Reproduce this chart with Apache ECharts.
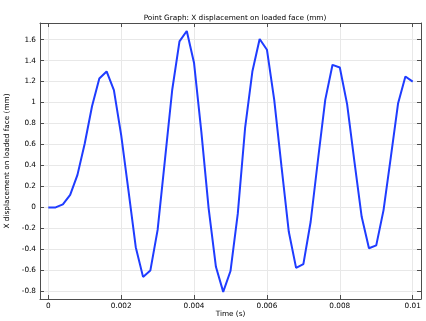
<!DOCTYPE html>
<html>
<head>
<meta charset="utf-8">
<script src="https://cdn.jsdelivr.net/npm/echarts@6/dist/echarts.min.js"></script>
<style>html,body{margin:0;padding:0;background:#fff}#c{width:426px;height:321px}</style>
</head>
<body>
<div id="c"></div>
<script>
var titleText = 'Point Graph: X displacement on loaded face (mm)';
var xName = 'Time (s)';
var yName = 'X displacement on loaded face (mm)';
var time = [0, 0.0002, 0.0004, 0.0006, 0.0008, 0.001, 0.0012, 0.0014, 0.0016, 0.0018,
  0.002, 0.0022, 0.0024, 0.0026, 0.0028, 0.003, 0.0032, 0.0034, 0.0036, 0.0038,
  0.004, 0.0042, 0.0044, 0.0046, 0.0048, 0.005, 0.0052, 0.0054, 0.0056, 0.0058,
  0.006, 0.0062, 0.0064, 0.0066, 0.0068, 0.007, 0.0072, 0.0074, 0.0076, 0.0078,
  0.008, 0.0082, 0.0084, 0.0086, 0.0088, 0.009, 0.0092, 0.0094, 0.0096, 0.0098, 0.01];
var displacement = [0, 0, 0.029, 0.12, 0.31, 0.61, 0.965, 1.23, 1.297, 1.118,
  0.69, 0.16, -0.38, -0.663, -0.603, -0.215, 0.45, 1.12, 1.584, 1.683,
  1.377, 0.72, -0.01, -0.567, -0.806, -0.607, -0.06, 0.755, 1.296, 1.606,
  1.504, 1.026, 0.388, -0.233, -0.577, -0.542, -0.137, 0.452, 1.026, 1.36,
  1.335, 0.985, 0.44, -0.09, -0.39, -0.362, -0.026, 0.48, 0.994, 1.249, 1.2];
var xTicks = [0, 0.002, 0.004, 0.006, 0.008, 0.01];
var yTicks = [-0.8, -0.6, -0.4, -0.2, 0, 0.2, 0.4, 0.6, 0.8, 1, 1.2, 1.4, 1.6];
var xRange = [-0.000228, 0.010228];
var yRange = [-0.874, 1.759];

var font = 'DejaVu Sans';
var axisColor = '#4d4d4d';
function mkX(pos, show) {
  return {
    type: 'value', position: pos, min: xRange[0], max: xRange[1],
    name: show ? xName : '', nameLocation: 'middle', nameGap: 12, nameMoveOverlap: false,
    nameTextStyle: {fontFamily: font, fontSize: 7.3, color: '#000'},
    axisLine: {show: true, onZero: false, lineStyle: {color: axisColor, width: 1}},
    axisTick: {show: true, inside: true, length: 4, customValues: xTicks, lineStyle: {color: axisColor}},
    axisLabel: {show: show, customValues: xTicks, margin: 4, fontFamily: font, fontSize: 7.3, color: '#000'},
    splitLine: {show: show, lineStyle: {color: '#e8e8e8', width: 1}}
  };
}
function mkY(pos, show) {
  return {
    type: 'value', position: pos, min: yRange[0], max: yRange[1],
    name: show ? yName : '', nameLocation: 'middle', nameGap: 29, nameMoveOverlap: false,
    nameTextStyle: {fontFamily: font, fontSize: 7.3, color: '#000'},
    axisLine: {show: true, onZero: false, lineStyle: {color: axisColor, width: 1}},
    axisTick: {show: true, inside: true, length: 4, customValues: yTicks, lineStyle: {color: axisColor}},
    axisLabel: {show: show, customValues: yTicks, margin: 4, fontFamily: font, fontSize: 7.3, color: '#000'},
    splitLine: {show: show, lineStyle: {color: '#e8e8e8', width: 1}}
  };
}
var chart = echarts.init(document.getElementById('c'), null, {renderer: 'canvas'});
chart.setOption({
  animation: false,
  backgroundColor: '#fff',
  title: {text: titleText, left: 230, textAlign: 'center', top: 10,
    textStyle: {fontFamily: font, fontSize: 7.3, fontWeight: 'normal', color: '#000'}},
  grid: {left: 40, right: 5, top: 23, bottom: 22, containLabel: false, outerBoundsMode: 'none'},
  xAxis: [mkX('bottom', true), mkX('top', false)],
  yAxis: [mkY('left', true), mkY('right', false)],
  series: [{
    type: 'line', xAxisIndex: 0, yAxisIndex: 0,
    data: time.map(function (t, i) { return [t, displacement[i]]; }),
    showSymbol: false, symbol: 'none',
    lineStyle: {color: '#1f3cff', width: 2},
    clip: true
  }]
});
</script>
</body>
</html>
